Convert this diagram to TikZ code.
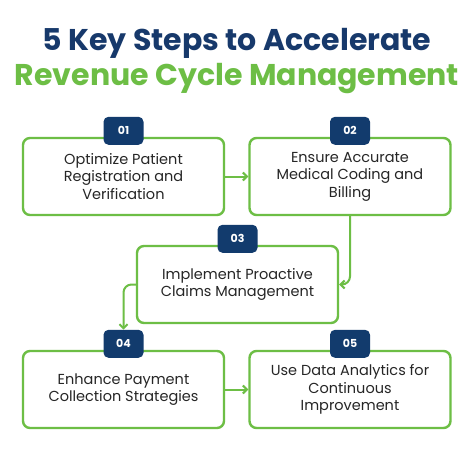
\documentclass[tikz,border=0pt]{standalone}
\usepackage{fontspec}
\setmainfont{Poppins}
\usepackage{tikz}
\usetikzlibrary{arrows.meta, positioning, calc}

\definecolor{rcmnavy}{HTML}{17396B}
\definecolor{rcmgreen}{HTML}{6DBE45}
\definecolor{badgenavy}{HTML}{123B6D}

\tikzset{
	stepbox/.style={draw=rcmgreen, line width=2.4pt, rounded corners=7pt, fill=white,
		minimum width=201pt, minimum height=77pt, align=center, text=black!85,
		font=\fontsize{14.5}{17.5}\selectfont},
	badge/.style={fill=badgenavy, rounded corners=5pt, minimum width=40pt, minimum height=28pt,
		text=white, font=\bfseries\fontsize{11}{13}\selectfont, inner sep=0pt},
	flow/.style={draw=rcmgreen, line width=2pt, -{Straight Barb[length=4pt,width=8pt]}, rounded corners=8pt}
}

\begin{document}
\begin{tikzpicture}[x=1pt, y=-1pt]
			
			% canvas
			\fill[white] (0,0) rectangle (474,474);
			\useasboundingbox (0,0) rectangle (474,474);
			
			% 1. TITLE
			\node[anchor=base, text=rcmnavy, font=\bfseries\fontsize{30}{36}\selectfont] (title1) at (237,50) {5 Key Steps to Accelerate};
			\node[anchor=base, text=rcmgreen, font=\bfseries\fontsize{30}{36}\selectfont] (title2) at (237,85) {Revenue Cycle Management};
			
			% 2. STEP BOXES
			\node[stepbox] (step1) at (123.5,176.5) {Optimize Patient\\Registration and\\Verification};
			\node[stepbox] (step2) at (350,176.5) {Ensure Accurate\\Medical Coding and\\Billing};
			\node[stepbox] (step3) at (237.5,284.5) {Implement Proactive\\Claims Management};
			\node[stepbox] (step4) at (123.5,389.5) {Enhance Payment\\Collection Strategies};
			\node[stepbox] (step5) at (350,389.5) {Use Data Analytics for\\Continuous\\Improvement};
			
			% Number badges on the top edges
			\node[badge] (num1) at ([yshift=6pt]step1.north) {01};
			\node[badge] (num2) at ([yshift=6pt]step2.north) {02};
			\node[badge] (num3) at ([yshift=6pt]step3.north) {03};
			\node[badge] (num4) at ([yshift=6pt]step4.north) {04};
			\node[badge] (num5) at ([yshift=6pt]step5.north) {05};
			
			% 3. CONNECTORS
			\draw[flow] (step1.east) -- (step2.west);
			\draw[flow] (step2.south) |- (step3.east);
			\draw[flow] (step3.west) -| (num4.north);
			\draw[flow] (step4.east) -- (step5.west);
			
		\end{tikzpicture}
\end{document}
